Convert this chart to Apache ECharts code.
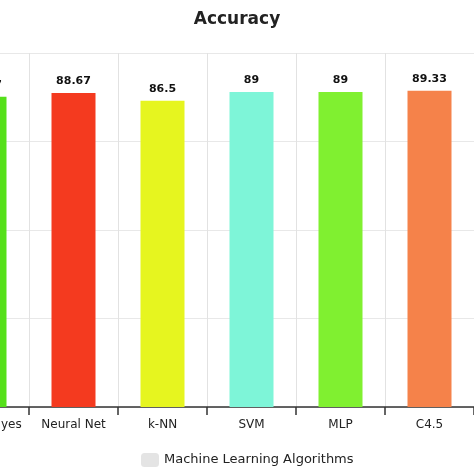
<!DOCTYPE html>
<html><head><meta charset="utf-8">
<script src="https://cdn.jsdelivr.net/npm/echarts@6/dist/echarts.min.js"></script>
<style>html,body{margin:0;padding:0;background:#fff;overflow:hidden;width:474px;height:474px}#c{position:absolute;left:-60px;top:0;width:560px;height:474px}</style>
</head><body><div id="c"></div>
<script>
const categories = ["Naive Bayes","Neural Net","k-NN","SVM","MLP","C4.5"];
const values = [87.67, 88.67, 86.5, 89, 89, 89.33];
const colors = ["#55e01a","#f43a1f","#e6f51f","#7ef5d8","#80f030","#f5824a"];
const chart = echarts.init(document.getElementById('c'));
chart.setOption({
  animation:false,
  title:{text:"Accuracy",left:292,textAlign:'center',top:6,textStyle:{fontFamily:'DejaVu Sans',fontSize:17,fontWeight:'bold',color:'#222'}},
  legend:{bottom:2,left:196,itemWidth:18,itemHeight:14,data:[{name:"Machine Learning Algorithms",itemStyle:{color:'#e4e4e4'}}],
    textStyle:{fontFamily:'DejaVu Sans',fontSize:13,color:'#222'}},
  grid:{left:0,right:26,top:53,bottom:67},
  xAxis:{type:'category',data:categories,
    axisLine:{lineStyle:{color:'#333',width:1.5}},
    axisTick:{show:true,length:8,lineStyle:{color:'#333',width:1.5}},
    axisLabel:{interval:0,fontFamily:'DejaVu Sans',fontSize:12,color:'#222',margin:12},
    splitLine:{show:true,lineStyle:{color:'#e2e2e2'}}},
  yAxis:{type:'value',min:0,max:100,interval:25,axisLabel:{show:false},axisLine:{show:false},axisTick:{show:false},
    splitLine:{lineStyle:{color:'#e8e8e8'}}},
  series:[{name:"Machine Learning Algorithms",type:'bar',barWidth:44,
    data:values.map((v,i)=>({value:v,itemStyle:{color:colors[i]}})),
    label:{show:true,position:'top',distance:6,fontFamily:'DejaVu Sans',fontWeight:'bold',fontSize:11,color:'#111'}}]
});
</script></body></html>
